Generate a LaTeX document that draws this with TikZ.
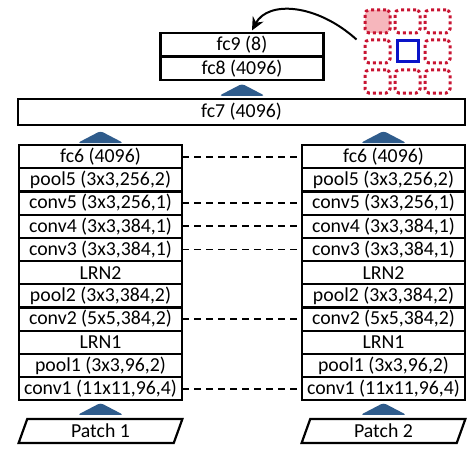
\documentclass[tikz,border=0pt]{standalone}
\usepackage{fontspec}
\setmainfont{Carlito}
\usetikzlibrary{positioning,arrows.meta,calc,shapes.geometric}
\definecolor{cellred}{RGB}{200,20,50}
\definecolor{cellpink}{RGB}{246,182,188}
\definecolor{cellblue}{RGB}{10,20,200}
\definecolor{triblue}{RGB}{47,92,140}
\tikzset{>={Stealth[width=12pt,length=13pt]}}

\begin{document}
\begin{tikzpicture}[
    x=1pt, y=-1pt,
    font=\fontsize{19.8}{22}\selectfont,
    layer/.style={
        draw=black,
        line width=2.2pt,
        minimum width=163pt,
        minimum height=23.2pt,
        inner sep=0pt,
        outer sep=0pt
        },
    patch/.style={
        draw=black,
        line width=2.2pt,
        trapezium,
        trapezium left angle=76,
        trapezium right angle=104,
        trapezium stretches=true,
        minimum width=164pt,
        minimum height=24pt,
        inner sep=0pt
        },
    cell/.style={
        draw=cellred,
        line width=3pt,
        dash pattern=on 3pt off 3pt,
        rounded corners=4pt,
        minimum width=25pt,
        minimum height=23pt,
        inner sep=0pt
        },
    link/.style={line width=1.8pt, dash pattern=on 7pt off 5pt},
    uptri/.pic={\fill[triblue, rounded corners=3pt] (-23,0) -- (0,-12) -- (23,0) -- cycle;}
    ]
    \useasboundingbox (0,0) rectangle (474,452);

    % head of the network
    \node[layer] (fc9) at (242,45) {fc9 (8)};
    \node[layer] (fc8) [below=0pt of fc9] {fc8 (4096)};
    \node[layer, minimum width=447pt, minimum height=26pt] (fc7) at (241.5,112) {fc7 (4096)};

    % the two towers
    \foreach \side/\x/\n in {L/100.5/1, R/383.5/2} {
        \node[layer] (\side-fc6) at (\x,156.6) {fc6 (4096)};
        \foreach \nm/\txt [remember=\nm as \prev (initially fc6)] in {
            pool5/{pool5 (3x3,256,2)}, conv5/{conv5 (3x3,256,1)},
            conv4/{conv4 (3x3,384,1)}, conv3/{conv3 (3x3,384,1)},
            LRN2/{LRN2}, pool2/{pool2 (3x3,384,2)},
            conv2/{conv2 (5x5,384,2)}, LRN1/{LRN1},
            pool1/{pool1 (3x3,96,2)}, conv1/{conv1 (11x11,96,4)}}
            \node[layer] (\side-\nm) [below=0pt of \side-\prev] {\txt};
        \node[patch] (\side-patch) at (\x,431) {Patch \n};
        \pic at ($(\side-fc6.north)+(0,-2)$) {uptri};
        \pic at ($(\side-patch.north)+(0,-3)$) {uptri};
    }
    \pic at ($(fc8.south)+(0,16)$) {uptri};

    % shared weights
    \foreach \nm in {fc6,conv5,conv4,conv3,conv2,conv1}
        \draw[link] (L-\nm.east) -- (R-\nm.west);

    % 3x3 grid of patches
    \node[cell, fill=cellpink] (cell-1-1) at (377.5,21.5) {};
    \foreach \r/\c in {1/2,1/3,2/1,2/3,3/1,3/2,3/3}
        \node[cell] (cell-\r-\c) at ({347.5+30*\c},{-8.5+30*\r}) {};
    \node[draw=cellblue, line width=3pt, minimum width=21pt, minimum height=21pt, inner sep=0pt] (cell-2-2) at (407.5,51.5) {};

    \coordinate (tail) at ($(cell-2-1.north west)+(-7,1)$);
    \coordinate (tip) at ($(fc9.north)+(10,-3)$);
    \draw[->, line width=2pt] (tail) .. controls +(-40,-36) and +(16,-30) .. (tip);
\end{tikzpicture}
\end{document}
